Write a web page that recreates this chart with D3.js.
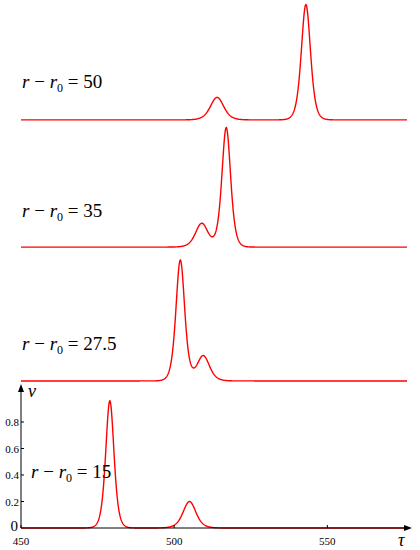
<!DOCTYPE html><html><head><meta charset="utf-8"><script src="https://cdn.jsdelivr.net/npm/d3@7"></script>
<style>body{margin:0;background:#fff}</style></head><body><svg id="c" width="420" height="550" font-family="Liberation Serif, Times New Roman, serif"></svg><script>
const labels=["15","27.5","35","50"];
const offsets=[0,1.11,2.12,3.08];
const bigCenters=[479,502,517,543];
const bigHeights=[0.96,0.91,0.9,0.87];
const bigWidths=[1.8,1.9,1.9,2.0];
const smallCenters=[505,509.5,509,514];
const smallHeights=[0.2,0.19,0.18,0.17];
const smallWidths=[2.8,2.7,2.7,2.9];
const labelY=[0.38,0.23,0.23,0.24];
const yTicks=[0.2,0.4,0.6,0.8];
const xTicks=[450,500,550];
const svg=d3.select("#c");
const x=d3.scaleLinear().domain([450,576]).range([21,407]);
const y=d3.scaleLinear().domain([0,1]).range([528,395.5]);
const sech2=u=>{const c=Math.cosh(u);return 1/(c*c);};
const ts=d3.range(450,576.01,0.1);
const line=d3.line().x(d=>x(d[0])).y(d=>y(d[1]));
labels.forEach((l,i)=>{
  const pts=ts.map(t=>[t,offsets[i]+bigHeights[i]*sech2((t-bigCenters[i])/bigWidths[i])+smallHeights[i]*sech2((t-smallCenters[i])/smallWidths[i])]);
  svg.append("path").attr("d",line(pts)).attr("fill","none").attr("stroke","#f00").attr("stroke-width",1.4);
  const g=svg.append("text").attr("x",i==0?31:22).attr("y",y(offsets[i]+labelY[i])).attr("font-size",19);
  g.append("tspan").attr("font-style","italic").text("r");
  g.append("tspan").text(" − ");
  g.append("tspan").attr("font-style","italic").text("r");
  g.append("tspan").attr("font-size",12).attr("dy",4).text("0");
  g.append("tspan").attr("dy",-4).text(" = "+l);
});
svg.append("line").attr("x1",x(450)).attr("x2",410).attr("y1",y(0)).attr("y2",y(0)).attr("stroke","#000");
svg.append("path").attr("d",`M412,${y(0)} l-8,-3 v6z`);
svg.append("line").attr("x1",x(450)).attr("x2",x(450)).attr("y1",y(0)).attr("y2",388).attr("stroke","#000");
svg.append("path").attr("d",`M${x(450)},384 l-3,8 h6z`);
yTicks.forEach(v=>{
  svg.append("line").attr("x1",x(450)).attr("x2",x(450)+3).attr("y1",y(v)).attr("y2",y(v)).attr("stroke","#000");
  svg.append("text").attr("x",x(450)-2).attr("y",y(v)+4).attr("text-anchor","end").attr("font-size",11).text(v);
});
svg.append("text").attr("x",x(450)-3).attr("y",y(0)+3).attr("text-anchor","end").attr("font-size",15).text("0");
xTicks.forEach(v=>{
  svg.append("line").attr("x1",x(v)).attr("x2",x(v)).attr("y1",y(0)).attr("y2",y(0)-3).attr("stroke","#000");
  svg.append("text").attr("x",x(v)).attr("y",y(0)+17).attr("text-anchor","middle").attr("font-size",11).text(v);
});
svg.append("text").attr("x",28).attr("y",397).attr("font-size",18).attr("font-style","italic").text("ν");
svg.append("text").attr("x",398).attr("y",546).attr("font-size",18).attr("font-style","italic").text("τ");
</script></body></html>
